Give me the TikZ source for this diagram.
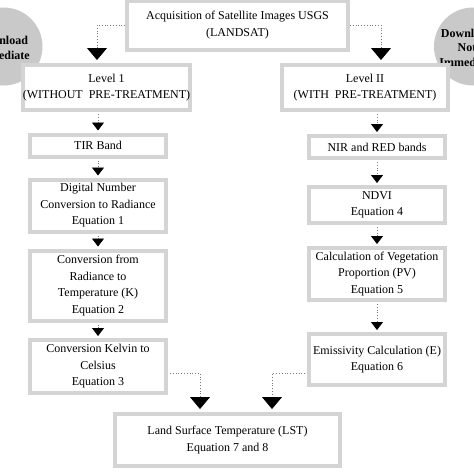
\documentclass[tikz,border=0pt]{standalone}
\usepackage{fontspec}
\setmainfont{Liberation Serif}
\usetikzlibrary{arrows.meta,calc}
\definecolor{boxgray}{HTML}{D4D4D4}
\definecolor{circgray}{HTML}{C9C9C9}
\definecolor{dotgray}{HTML}{7A7A7A}
\tikzset{
  stepbox/.style={draw=boxgray, line width=4pt, fill=white, align=center, inner sep=0pt,
    font=\fontsize{12}{16.5}\selectfont, text=black},
  colbox/.style={stepbox, minimum width=136pt},
  circ/.style={fill=circgray, circle, minimum size=78pt, inner sep=0pt},
  circtext/.style={align=center, font=\fontsize{12}{14.5}\selectfont\bfseries, text=black},
  conn/.style={draw=dotgray, line width=0.8pt, dotted, -{Triangle[width=12pt,length=8pt,black]}},
  bigconn/.style={draw=dotgray, line width=0.8pt, dotted, -{Triangle[width=20pt,length=12pt,black]}},
}
\begin{document}
\begin{tikzpicture}[x=1pt,y=-1pt]
\useasboundingbox (0,0) rectangle (474,474);
\fill[white] (0,0) rectangle (474,474);
% circles
\node[circ] (cl) at (3.5,46.5) {};
\node[circtext] (clt) at (2,48) {Download\\Immediate};
\node[circ] (cr) at (473,46.5) {};
\node[circtext] (crt) at (467,47.5) {Download\\Not\\Immediate};
% top
\node[stepbox, minimum width=221pt, minimum height=49pt] (top) at (237.5,25) {Acquisition of Satellite Images USGS\\(LANDSAT)};
% levels
\node[stepbox, minimum width=167pt, minimum height=45pt] (L1) at (106.5,87.5) {Level 1\\(WITHOUT\ \ PRE-TREATMENT)};
\node[stepbox, minimum width=166pt, minimum height=45pt] (L2) at (365,87.5) {Level II\\(WITH\ \ PRE-TREATMENT)};
% left column
\node[colbox, minimum height=22pt] (tir) at (98,145.5) {TIR Band};
\node[colbox, minimum height=52pt] (dn) at (98,205.5) {Digital Number\\Conversion to Radiance\\Equation 1};
\node[colbox, minimum height=70pt] (rt) at (98,285.5) {Conversion from\\Radiance to\\Temperature (K)\\Equation 2};
\node[colbox, minimum height=53pt] (kc) at (98,366.5) {Conversion Kelvin to\\Celsius\\Equation 3};
% right column
\node[colbox, minimum height=22pt] (nir) at (377,147) {NIR and RED bands};
\node[colbox, minimum height=36pt] (ndvi) at (377,205) {NDVI\\Equation 4};
\node[colbox, minimum height=52pt] (pv) at (377,274) {Calculation of Vegetation\\Proportion (PV)\\Equation 5};
\node[colbox, minimum height=51pt] (em) at (377,359.5) {Emissivity Calculation (E)\\Equation 6};
% bottom
\node[stepbox, minimum width=225pt, minimum height=52pt] (lst) at (227.5,440) {Land Surface Temperature (LST)\\Equation 7 and 8};
% connectors
\draw[bigconn] (top.west) -| ($(L1.north)+(-9.5,-3)$);
\draw[bigconn] (top.east) -| ($(L2.north)+(16,-3)$);
\draw[conn] ($(L1.south -| tir.north)+(0,2)$) -- ($(tir.north)+(0,-2)$);
\draw[conn] ($(tir.south)+(0,2)$) -- ($(dn.north)+(0,-2)$);
\draw[conn] ($(dn.south)+(0,2)$) -- ($(rt.north)+(0,-2)$);
\draw[conn] ($(rt.south)+(0,2)$) -- ($(kc.north)+(0,-2)$);
\draw[conn] ($(L2.south -| nir.north)+(0,2)$) -- ($(nir.north)+(0,-2)$);
\draw[conn] ($(nir.south)+(0,2)$) -- ($(ndvi.north)+(0,-2)$);
\draw[conn] ($(ndvi.south)+(0,2)$) -- ($(pv.north)+(0,-2)$);
\draw[conn] ($(pv.south)+(0,2)$) -- ($(em.north)+(0,-2)$);
\coordinate (kcout) at ($(kc.east)+(2,6.5)$);
\coordinate (emout) at ($(em.west)+(-2,14)$);
\draw[bigconn] (kcout) -| ($(lst.north)+(-27.5,-3)$);
\draw[bigconn] (emout) -| ($(lst.north)+(44.5,-3)$);
\end{tikzpicture}
\end{document}
